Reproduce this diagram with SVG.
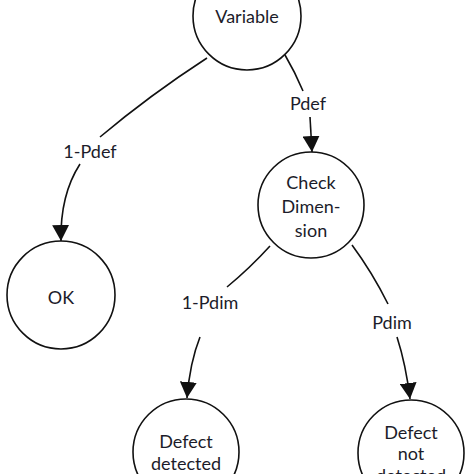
<svg xmlns="http://www.w3.org/2000/svg" width="474" height="474" viewBox="0 0 474 474">
<style>
.node circle{fill:#fff;stroke:#111;stroke-width:1.6}
text{font-family:Lato,"Open Sans",sans-serif;font-size:18px;fill:#1c1c2a;text-anchor:middle;dominant-baseline:central}
.edge{fill:none;stroke:#111;stroke-width:1.6}
</style>
<defs>
<marker id="ah" viewBox="0 0 16 17" refX="16" refY="8.5" markerWidth="16" markerHeight="17" markerUnits="userSpaceOnUse" orient="auto">
<path d="M0,0 L16,8.5 L0,17 z" fill="#111"/>
</marker>
</defs>
<rect width="474" height="474" fill="#fff"/>
<g id="connectors">
<path class="edge" d="M207,58 Q150,95 100,137"/>
<path class="edge" d="M80,164 Q60,195 61,241" marker-end="url(#ah)"/>
<path class="edge" d="M285,55 Q295,72 303,91"/>
<path class="edge" d="M310,117 L312,152" marker-end="url(#ah)"/>
<path class="edge" d="M270,246 Q250,268 227,287"/>
<path class="edge" d="M200,337 Q190,362 187,398" marker-end="url(#ah)"/>
<path class="edge" d="M352,245 Q372,272 388,304"/>
<path class="edge" d="M397,337 Q406,365 410,399" marker-end="url(#ah)"/>
<text x="90" y="151">1-Pdef</text>
<text x="308" y="103">Pdef</text>
<text x="210" y="302">1-Pdim</text>
<text x="392" y="322">Pdim</text>
</g>
<g id="variable" class="node"><circle cx="247" cy="16" r="54"/><text x="247" y="16">Variable</text></g>
<g id="check" class="node"><circle cx="311" cy="205" r="53"/><text x="311" y="182">Check</text><text x="311" y="206">Dimen-</text><text x="311" y="230">sion</text></g>
<g id="ok" class="node"><circle cx="61" cy="295" r="54"/><text x="61" y="297">OK</text></g>
<g id="detected" class="node"><circle cx="186" cy="452" r="53"/><text x="186" y="441">Defect</text><text x="186" y="463">detected</text></g>
<g id="notdetected" class="node"><circle cx="411" cy="453" r="53"/><text x="411" y="432">Defect</text><text x="411" y="453">not</text><text x="411" y="475">detected</text></g>
</svg>
